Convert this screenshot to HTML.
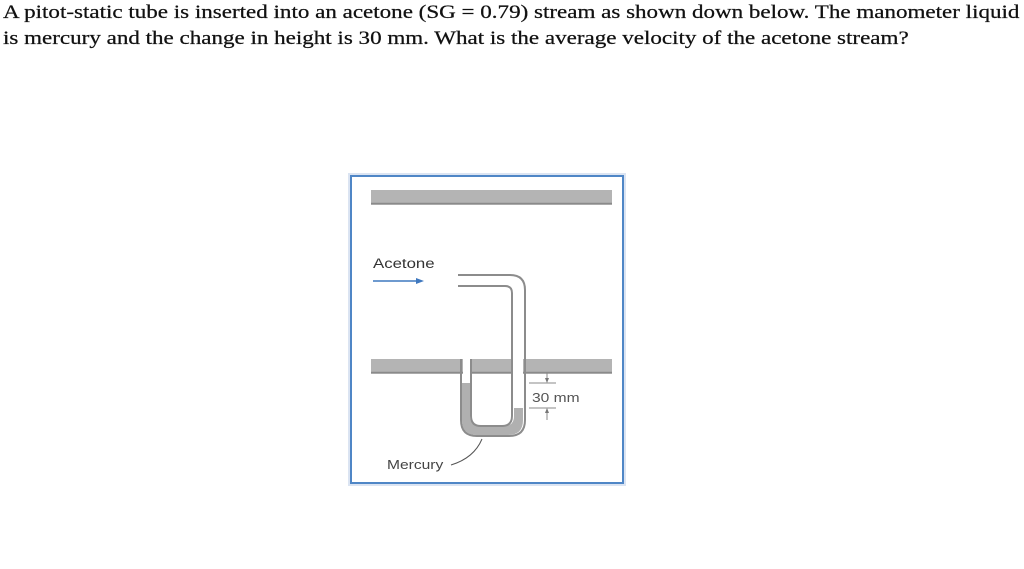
<!DOCTYPE html>
<html><head><meta charset="utf-8"><style>
html,body{margin:0;padding:0;background:#fff;width:1024px;height:569px;overflow:hidden}
.t{position:absolute;left:3px;top:0;font-family:"Liberation Serif",serif;font-size:19px;line-height:26px;color:#111;white-space:nowrap;transform:scaleX(1.212);transform-origin:0 0;-webkit-text-stroke:0.25px #111}
svg{position:absolute;left:0;top:0}
</style></head><body>
<div class="t">A pitot-static tube is inserted into an acetone (SG = 0.79) stream as shown down below. The manometer liquid<br>is mercury and the change in height is 30 mm. What is the average velocity of the acetone stream?</div>
<svg width="1024" height="569" viewBox="0 0 1024 569">
<rect x="349.5" y="174.5" width="275" height="310" fill="#fff" stroke="#dbe4f2" stroke-width="3"/>
<rect x="351" y="176" width="272" height="307" fill="none" stroke="#4f86c6" stroke-width="2"/>
<rect x="371" y="190" width="241" height="15" fill="#b4b4b4"/>
<line x1="371" y1="203.5" x2="612" y2="203.5" stroke="#8a8a8a" stroke-width="1.5"/>
<rect x="371" y="359" width="241" height="15" fill="#b4b4b4"/>
<line x1="371" y1="372.5" x2="612" y2="372.5" stroke="#8a8a8a" stroke-width="1.5"/>
<text x="373" y="268" font-family="Liberation Sans,sans-serif" font-size="14" fill="#333" transform="translate(373 0) scale(1.2 1) translate(-373 0)">Acetone</text>
<line x1="373" y1="281" x2="418" y2="281" stroke="#3f78bf" stroke-width="1.5"/>
<polygon points="424,281 416,278 416,284" fill="#3f78bf"/>
<path d="M462,383 L470,383 L470,416 Q470,426 480,426 L504,426 Q514,426 514,416 L514,408 L523,408 L523,420 Q523,435 508,435 L477,435 Q462,435 462,420 Z" fill="#b0b0b0"/>
<rect x="512" y="288" width="11" height="120" fill="#fff"/>
<rect x="463" y="359" width="7" height="24" fill="#fff"/>
<path d="M458,275 L510,275 Q525,275 525,290 L525,420 Q525,436 509,436 L477,436 Q461,436 461,420 L461,359" fill="none" stroke="#8c8c8c" stroke-width="2"/>
<path d="M458,286 L505,286 Q512,286 512,293 L512,416 Q512,426 502,426 L481,426 Q471,426 471,416 L471,359" fill="none" stroke="#8c8c8c" stroke-width="2"/>
<line x1="529" y1="383" x2="556" y2="383" stroke="#888" stroke-width="1"/>
<line x1="529" y1="408" x2="556" y2="408" stroke="#888" stroke-width="1"/>
<line x1="547" y1="372" x2="547" y2="382" stroke="#888" stroke-width="1"/>
<polygon points="547,383 545,378 549,378" fill="#777"/>
<line x1="547" y1="409" x2="547" y2="420" stroke="#888" stroke-width="1"/>
<polygon points="547,408 545,413 549,413" fill="#777"/>
<text x="532" y="402" font-family="Liberation Sans,sans-serif" font-size="13" fill="#555" transform="translate(532 0) scale(1.2 1) translate(-532 0)">30 mm</text>
<text x="387" y="469" font-family="Liberation Sans,sans-serif" font-size="13" fill="#444" transform="translate(387 0) scale(1.2 1) translate(-387 0)">Mercury</text>
<path d="M451,465 Q474,458 482,439" fill="none" stroke="#555" stroke-width="1"/>
</svg>
</body></html>
